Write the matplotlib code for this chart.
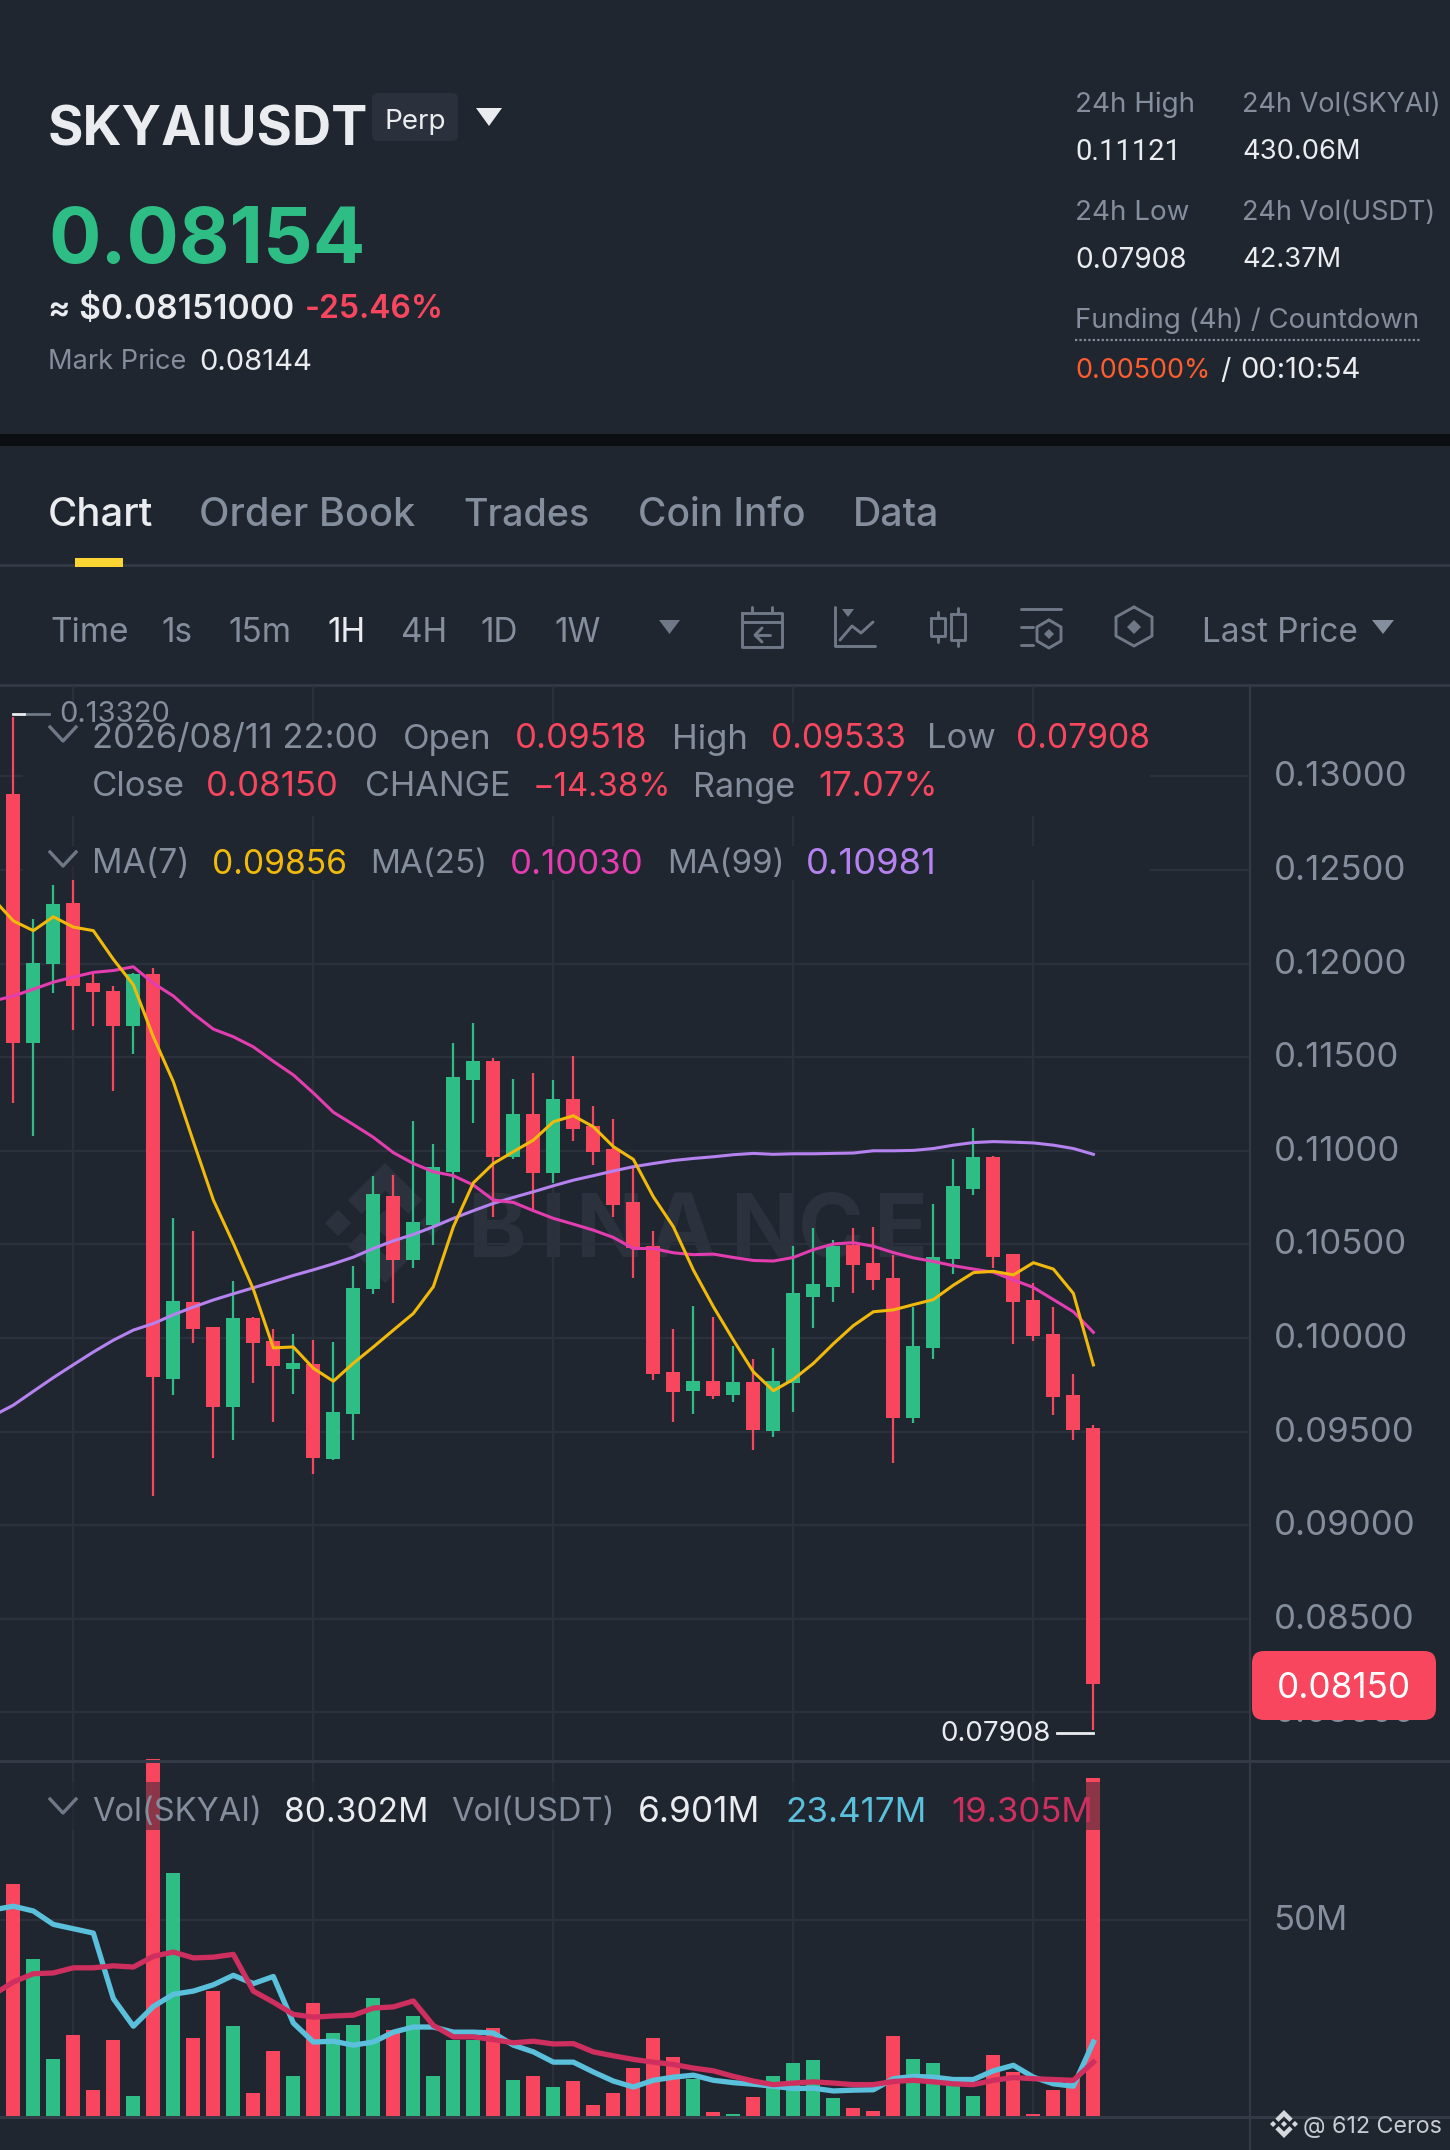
import matplotlib
matplotlib.use('Agg')
import matplotlib.pyplot as plt
from matplotlib.patches import Polygon, Rectangle, FancyBboxPatch
from matplotlib.transforms import ScaledTranslation

plt.rcParams['font.family'] = ['Inter', 'DejaVu Sans']

BG = '#1f2630'
GREEN = '#2ebd85'
RED = '#f8465f'
GREY = '#848e9c'
WHITE = '#eaecef'
LINE = '#333a45'
GRID = '#2b313c'
ICON = '#6f7886'
W, H = 1450, 2150

# first candle is cut off by the left edge
idx = list(range(-1, 55))
opens = [.12714, .12907, .11574, .11996, .12323, .11895, .11854, .11664, .11947, .09783,
         .10192, .10061, .09633, .10105, .09985, .09832, .09859, .09355, .09592, .10260,
         .10759, .10416, .10603, .10888, .11378, .11477, .10968, .11196, .10883, .11274,
         .11135, .11009, .10726, .10491, .09819, .09716, .09770, .09695, .09764, .09504,
         .09761, .10220, .10273, .10495, .10400, .10321, .09571, .09944, .10423, .10798,
         .10965, .10446, .10205, .10020, .09696, .09518]
closes = [.12907, .11574, .12004, .12318, .11882, .11846, .11664, .11944, .09789, .10197,
          .10047, .09631, .10105, .09974, .09851, .09865, .09358, .09606, .10268, .10770,
          .10415, .10617, .10911, .11394, .11477, .10968, .11196, .10883, .11274, .11118,
          .10995, .10708, .10478, .09807, .09713, .09770, .09691, .09763, .09508, .09770,
          .10242, .10286, .10493, .10388, .10312, .09573, .09955, .10435, .10810, .10968,
          .10435, .10194, .10011, .09684, .09510, .08150]
highs = [.12907, .13320, .12236, .12421, .12520, .11942, .11882, .11950, .11974, .10642,
         .10573, .10061, .10306, .10110, .10050, .10020, .09987, .09979, .10383, .10865,
         .10873, .11160, .11036, .11577, .11680, .11493, .11381, .11417, .11378, .11509,
         .11239, .11169, .10906, .10571, .10046, .10170, .10110, .09957, .09887, .09949,
         .10491, .10589, .10523, .10585, .10592, .10442, .10164, .10715, .10956, .11121,
         .10974, .10446, .10293, .10164, .09807, .09533]
lows = [.12714, .11255, .11078, .11841, .11647, .11664, .11317, .11519, .09156, .09696,
        .09974, .09361, .09456, .09761, .09551, .09701, .09271, .09347, .09456, .10233,
        .10186, .10372, .10496, .10722, .11151, .10644, .10954, .10683, .10829, .11054,
        .10924, .10648, .10318, .09775, .09552, .09593, .09673, .09659, .09401, .09472,
        .09606, .10055, .10194, .10242, .10256, .09334, .09545, .09888, .10344, .10766,
        .10374, .09967, .09983, .09589, .09457, .07908]

ma7 = [.12345, .12228, .12176, .12250, .12195, .12176, .12023, .11887, .11609, .11369,
       .11050, .10737, .10505, .10260, .09947, .09952, .09838, .09769, .09865, .09952,
       .10042, .10131, .10274, .10594, .10829, .10932, .10995, .11057, .11155, .11187,
       .11128, .11022, .10954, .10754, .10594, .10363, .10167, .09989, .09819, .09718,
       .09779, .09864, .09969, .10066, .10140, .10150, .10178, .10205, .10282, .10349,
       .10356, .10337, .10402, .10368, .10238, .09856]
ma25 = [.11800, .11827, .11863, .11901, .11928, .11953, .11963, .11983, .11895, .11827,
        .11732, .11650, .11609, .11555, .11478, .11405, .11309, .11206, .11140, .11072,
        .10990, .10932, .10888, .10867, .10817, .10737, .10724, .10680, .10639, .10608,
        .10576, .10537, .10478, .10478, .10455, .10445, .10448, .10430, .10414, .10411,
        .10430, .10472, .10502, .10509, .10490, .10456, .10428, .10409, .10386, .10368,
        .10351, .10310, .10270, .10205, .10140, .10030]
ma99 = [.09585, .09641, .09715, .09788, .09857, .09925, .09988, .10042, .10077, .10124,
        .10165, .10203, .10236, .10268, .10301, .10334, .10364, .10396, .10432, .10478,
        .10519, .10553, .10594, .10639, .10680, .10719, .10751, .10781, .10813, .10843,
        .10867, .10892, .10915, .10932, .10948, .10959, .10968, .10979, .10986, .10981,
        .10984, .10984, .10986, .10988, .11000, .11000, .11002, .11012, .11030, .11044,
        .11049, .11046, .11042, .11030, .11012, .10981]

vol = [50.9, 59.1, 40.0, 14.8, 20.9, 6.9, 19.6, 5.4, 90.6, 61.9,
       19.9, 31.8, 23.1, 6.2, 16.6, 10.3, 28.9, 21.4, 23.3, 30.2,
       22.0, 25.5, 10.5, 19.4, 19.6, 22.6, 9.5, 10.3, 7.6, 9.0,
       3.1, 6.2, 12.3, 19.9, 15.1, 9.7, 1.3, 0.8, 5.1, 10.5,
       13.8, 14.4, 4.9, 2.4, 1.4, 20.4, 14.8, 13.6, 8.4, 5.2,
       15.6, 11.4, 0.8, 6.8, 9.7, 85.8]
vol_ma_blue = [52.5, 53.4, 52.2, 48.8, 47.7, 46.6, 30.0, 23.0, 28.0, 31.1,
               31.9, 33.5, 35.9, 33.8, 35.6, 23.8, 19.0, 19.2, 18.2, 19.0,
               21.5, 22.8, 22.8, 21.5, 21.5, 21.3, 18.2, 16.5, 13.9, 13.9,
               11.4, 9.1, 7.6, 9.3, 10.1, 10.6, 9.3, 8.7, 8.3, 7.8,
               7.2, 7.3, 6.6, 6.8, 6.9, 9.7, 10.3, 10.1, 9.5, 9.5,
               11.7, 13.1, 10.1, 8.4, 7.8, 19.0]
vol_ma_red = [31.0, 34.2, 36.3, 36.5, 37.8, 37.8, 38.3, 38.0, 40.7, 41.8,
              40.3, 40.5, 41.2, 31.9, 29.1, 26.0, 25.3, 25.6, 25.8, 27.6,
              27.9, 29.4, 23.2, 20.3, 20.3, 19.6, 18.8, 19.2, 18.5, 18.6,
              16.5, 15.5, 14.6, 13.9, 13.3, 12.4, 11.7, 10.3, 9.1, 8.2,
              8.6, 8.9, 8.6, 8.2, 8.2, 9.0, 9.3, 8.9, 8.4, 8.2,
              9.3, 10.0, 9.7, 9.5, 9.3, 13.9]

price_ticks = [.13, .125, .12, .115, .11, .105, .10, .095, .09, .085, .08]
price_labels = ['0.13000', '0.12500', '0.12000', '0.11500', '0.11000', '0.10500',
                '0.10000', '0.09500', '0.09000', '0.08500', '0.08000']
time_ticks = [3, 15, 27, 39, 51]


def pix_axes(top, bottom, right=W):
    return fig.add_axes([0, 1 - bottom / H, right / W, (bottom - top) / H])


fig = plt.figure(figsize=(W / 100, H / 100), dpi=100, facecolor=BG)

# layer under the chart: header and watermark, in pixels
base = fig.add_axes([0, 0, 1, 1], zorder=0)
base.set_xlim(0, W)
base.set_ylim(H, 0)
base.axis('off')
# layer over the chart: legends, tags
over = fig.add_axes([0, 0, 1, 1], zorder=5)
over.set_xlim(0, W)
over.set_ylim(H, 0)
over.axis('off')
over.patch.set_alpha(0)


def txt(a, x, y, s, color=GREY, size=22.5, weight='normal', ha='left', **kw):
    a.text(x, y, s, color=color, fontsize=size, fontweight=weight, ha=ha,
           va='center_baseline', **kw)


def logo(a, cx, cy, s, color, z=1):
    d = 0.22
    for dx in (-0.78, 0, 0.78):
        a.add_patch(Polygon([(cx + (dx - d) * s, cy), (cx + dx * s, cy - d * s),
                             (cx + (dx + d) * s, cy), (cx + dx * s, cy + d * s)],
                            fc=color, ec='none', zorder=z))
    for sign in (-1, 1):
        pts = [(0, 1), (.62, .38), (.39, .15), (0, .54), (-.39, .15), (-.62, .38)]
        a.add_patch(Polygon([(cx + p * s, cy + sign * q * s) for p, q in pts],
                            fc=color, ec='none', zorder=z))


def lift_labels(a, px):
    # tick labels sit a little above their gridlines
    up = ScaledTranslation(0, px / 100, fig.dpi_scale_trans)
    for t in a.yaxis.get_major_ticks():
        t.label2.set_transform(t.label2.get_transform() + up)


# header left
txt(base, 48, 125, 'SKYAIUSDT', WHITE, 39, 'bold')
base.add_patch(FancyBboxPatch((376, 97), 78, 40, boxstyle='round,pad=4,rounding_size=6',
                              fc='#2a313c', ec='none'))
txt(base, 415, 119, 'Perp', WHITE, 20, ha='center')
base.add_patch(Polygon([(476, 108), (502, 108), (489, 126)], fc=WHITE, ec='none'))
txt(base, 48, 235, '0.08154', GREEN, 56, 'bold')
txt(base, 48, 306, '≈ $0.08151000', WHITE, 24.2, 'semibold')
txt(base, 305, 306, '-25.46%', RED, 23, 'semibold')
txt(base, 48, 359, 'Mark Price', GREY, 19.6)
txt(base, 199, 359, '0.08144', WHITE, 21)

# header right
txt(base, 1075, 102, '24h High', GREY, 20)
txt(base, 1242, 102, '24h Vol(SKYAI)', GREY, 19.5)
txt(base, 1075, 149, '0.11121', WHITE, 21, family=['Roboto', 'DejaVu Sans'])
txt(base, 1242, 149, '430.06M', WHITE, 19.7)
txt(base, 1075, 210, '24h Low', GREY, 20)
txt(base, 1242, 210, '24h Vol(USDT)', GREY, 19.5)
txt(base, 1075, 257, '0.07908', WHITE, 20.2)
txt(base, 1242, 257, '42.37M', WHITE, 19.7)
txt(base, 1075, 318, 'Funding (4h) / Countdown', GREY, 19.9)
base.plot([1075, 1420], [340, 340], color=GREY, lw=1.6, ls=(0, (1, 1)))
txt(base, 1075, 368, '0.00500%', '#ff5d2e', 19.3)
txt(base, 1220, 368, '/', WHITE, 20.5)
txt(base, 1240, 368, '00:10:54', WHITE, 21)

base.add_patch(Rectangle((0, 434), W, 12, fc='#0b0e11', ec='none'))

# tabs
txt(base, 48, 512, 'Chart', WHITE, 28.8, 'medium')
txt(base, 199, 512, 'Order Book', GREY, 28.6, 'medium')
txt(base, 463, 512, 'Trades', GREY, 27.1, 'medium')
txt(base, 638, 512, 'Coin Info', GREY, 28, 'medium')
txt(base, 853, 512, 'Data', GREY, 28.3, 'medium')
base.add_patch(Rectangle((75, 558), 48, 9, fc='#fcd535', ec='none', zorder=3))
base.plot([0, W], [565, 565], color=LINE, lw=2)
base.plot([0, W], [685, 685], color=LINE, lw=2)

# toolbar
for x, s, c in [(51, 'Time', GREY), (162, '1s', GREY), (229, '15m', GREY), (328, '1H', WHITE),
                (402, '4H', GREY), (481, '1D', GREY), (555, '1W', GREY), (1203, 'Last Price', GREY)]:
    txt(base, x - 1, 630, s, c, 24)
base.add_patch(Polygon([(659, 620), (680, 620), (669.5, 634)], fc=ICON, ec='none'))
base.add_patch(Polygon([(1372, 620), (1394, 620), (1383, 634)], fc=GREY, ec='none'))

ik = dict(color=ICON, lw=2.1, solid_capstyle='round', solid_joinstyle='round')
# calendar
base.plot([742, 782, 782, 742, 742], [613, 613, 647, 647, 613], **ik)
base.plot([742, 782], [622, 622], **ik)
base.plot([752, 752], [607, 613], **ik)
base.plot([772, 772], [607, 613], **ik)
base.plot([770, 755], [635, 635], **ik)
base.plot([762, 755, 762], [628, 635, 642], **ik)
# line chart
base.plot([835, 835, 875], [607, 646, 646], **ik)
base.add_patch(Polygon([(842, 609), (854, 609), (848, 617)], fc=ICON, ec='none'))
base.plot([840, 852, 861, 873], [640, 626, 633, 622], **ik)
# candles
base.plot([931, 945, 945, 931, 931], [618, 618, 636, 636, 618], **ik)
base.plot([938, 938], [612, 618], **ik)
base.plot([938, 938], [636, 642], **ik)
base.plot([951, 965, 965, 951, 951], [614, 614, 640, 640, 614], **ik)
base.plot([958, 958], [608, 614], **ik)
base.plot([958, 958], [640, 646], **ik)
# settings
base.plot([1021, 1061], [609, 609], **ik)
base.plot([1021, 1033], [627, 627], **ik)
base.plot([1021, 1033], [645, 645], **ik)
base.plot([1049, 1061, 1061, 1049, 1037, 1037, 1049], [620, 627, 641, 648, 641, 627, 620], **ik)
base.add_patch(Polygon([(1049, 629), (1054, 634), (1049, 639), (1044, 634)], fc=ICON, ec='none'))
# hexagon
base.plot([1134, 1152, 1152, 1134, 1116, 1116, 1134], [607, 617, 636, 646, 636, 617, 607], **ik)
base.add_patch(Polygon([(1134, 620), (1141, 627), (1134, 634), (1127, 627)], fc=ICON, ec='none'))

# watermark
WM = '#2c323d'
logo(base, 385, 1223, 60, WM)
for x, ch in [(472, 'B'), (545, 'I'), (580, 'N'), (655, 'A'), (735, 'N'), (803, 'C'), (878, 'E')]:
    txt(base, x - 5, 1225, ch, WM, 64, 'bold')

# price panel
ax = pix_axes(686, 1761, 1250)
ax.set_zorder(1)
ax.patch.set_alpha(0)
ax.set_xlim(-0.667, 61.83)
ax.set_ylim(0.07740, 0.13483)
for s in ax.spines.values():
    s.set_visible(False)
ax.set_yticks(price_ticks, price_labels)
ax.set_xticks(time_ticks, [])
ax.yaxis.tick_right()
ax.tick_params(axis='both', length=0)
ax.tick_params(axis='y', labelsize=25, labelcolor=GREY, pad=17)
lift_labels(ax, 2.5)
ax.grid(True, color=GRID, lw=1.6)
ax.set_axisbelow(True)

colors = [GREEN if c >= o else RED for o, c in zip(opens, closes)]
ax.vlines(idx, lows, highs, colors=colors, lw=1.6, zorder=2)
ax.bar(idx, [abs(c - o) for o, c in zip(opens, closes)],
       bottom=[min(o, c) for o, c in zip(opens, closes)],
       width=0.7, color=colors, lw=0, zorder=2)
ax.plot(idx, ma99, color='#b582f0', lw=2.2, zorder=3)
ax.plot(idx, ma25, color='#e33db0', lw=2.2, zorder=3)
ax.plot(idx, ma7, color='#f0b90b', lw=2.2, zorder=4)

# volume panel
vx = pix_axes(1761, 2117, 1250)
vx.set_zorder(1)
vx.patch.set_alpha(0)
vx.set_xlim(-0.667, 61.83)
vx.set_ylim(0, 90.2)
for s in vx.spines.values():
    s.set_visible(False)
vx.set_yticks([50], ['50M'])
vx.set_xticks(time_ticks, [])
vx.yaxis.tick_right()
vx.tick_params(axis='both', length=0)
vx.tick_params(axis='y', labelsize=25, labelcolor=GREY, pad=17)
lift_labels(vx, 2.5)
vx.grid(True, color=GRID, lw=1.6)
vx.set_axisbelow(True)
bars = vx.bar(idx, vol, width=0.7, color=colors, lw=0, zorder=2)
for b in bars[1:]:
    b.set_clip_on(False)
vx.plot(idx, vol_ma_blue, color='#5bc0dc', lw=3.8, zorder=3)
vx.plot(idx, vol_ma_red, color='#cf2f5f', lw=3.8, zorder=4)

# separators
over.plot([0, W], [1761, 1761], color=LINE, lw=2.2, zorder=1)
over.plot([0, W], [2117, 2117], color=LINE, lw=2.2, zorder=1)
over.plot([1250, 1250], [686, H], color=LINE, lw=1.6, zorder=1)

# legend backdrops
over.add_patch(Rectangle((23, 723), 1127, 93, fc=BG, ec='none', alpha=0.92, zorder=2))
over.add_patch(Rectangle((23, 846), 1127, 34, fc=BG, ec='none', alpha=0.92, zorder=2))
over.add_patch(Rectangle((48, 1782), 1053, 48, fc=BG, ec='none', alpha=0.5, zorder=2))


def chevron(x0, x1, y0, y1):
    over.plot([x0, (x0 + x1) / 2, x1], [y0, y1, y0], color=ICON, lw=2.4, zorder=3)


chevron(50, 76, 727, 741)
chevron(50, 76, 852, 866)
chevron(50, 76, 1799, 1813)

YEL = '#f0b90b'
PINK = '#e33db0'
PUR = '#b582f0'
for x, y, s, c, size in [(92, 736, '2026/08/11 22:00', GREY, 24.8), (403, 736, 'Open', GREY, 25),
                         (515, 736, '0.09518', RED, 25), (672, 736, 'High', GREY, 25),
                         (771, 736, '0.09533', RED, 24.2), (927, 736, 'Low', GREY, 25),
                         (1016, 736, '0.07908', RED, 24.2),
                         (92, 784, 'Close', GREY, 25), (206, 784, '0.08150', RED, 25),
                         (365, 784, 'CHANGE', GREY, 24.6), (533, 784, '−14.38%', RED, 23.6),
                         (693, 784, 'Range', GREY, 24.6), (818, 784, '17.07%', RED, 25),
                         (92, 861, 'MA(7)', GREY, 24.3), (212, 861, '0.09856', YEL, 24.2),
                         (370, 861, 'MA(25)', GREY, 23.9), (510, 861, '0.10030', PINK, 25),
                         (667, 861, 'MA(99)', GREY, 23.8), (806, 861, '0.10981', PUR, 26.2)]:
    over.text(x, y, s, color=c, fontsize=size, va='center_baseline', zorder=4)
for x, s, c, size in [(92, 'Vol(SKYAI)', GREY, 23.5), (284, '80.302M', WHITE, 24.2), (451, 'Vol(USDT)', GREY, 23.5),
                      (638, '6.901M', WHITE, 25.4), (785, '23.417M', '#5bc0dc', 25.2), (951, '19.305M', '#cf2f5f', 25)]:
    over.text(x, 1809, s, color=c, fontsize=size, va='center_baseline', zorder=4)

# high / low markers
over.plot([24, 49], [714, 714], color='#6f7886', lw=2, zorder=3)
over.plot([13, 24], [714, 714], color=WHITE, lw=2, zorder=3)
over.text(59, 711, '0.13320', color=GREY, fontsize=21, va='center_baseline', zorder=1)
over.text(940, 1731, '0.07908', color=WHITE, fontsize=20, va='center_baseline', zorder=3)
over.plot([1057, 1093], [1733, 1733], color=WHITE, lw=2, zorder=3)

# last price tag
over.add_patch(FancyBboxPatch((1264, 1663), 160, 45, boxstyle='round,pad=12,rounding_size=12',
                              fc=RED, ec='none', zorder=6))
over.text(1344, 1685, '0.08150', color='white', fontsize=25.3, ha='center', va='center_baseline', zorder=7)

# corner mark
logo(over, 1284, 2124, 14, '#d5d8dc', z=8)
over.text(1303, 2124, '@ 612 Ceros', color='#c8ccd2', fontsize=16.8, va='center_baseline', zorder=8)

fig.savefig('out.png', dpi=100, facecolor=BG)
